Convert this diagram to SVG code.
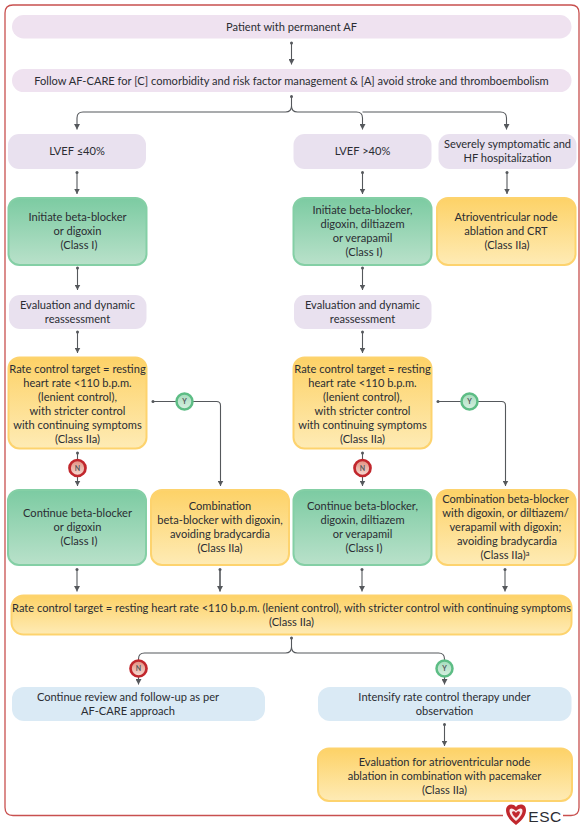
<svg xmlns="http://www.w3.org/2000/svg" width="585" height="825" viewBox="0 0 585 825">
<style>
text{font-family:"Lato","Open Sans","Liberation Sans",sans-serif;font-size:11.1px;fill:#2b2d33;text-anchor:middle}
.g{fill:url(#gg);stroke:#84cfa5;stroke-width:2}
.y{fill:url(#gy);stroke:#fdd36e;stroke-width:2}
.p{fill:#efe2f0}
.l{fill:#e9e1ef}
.b{fill:#daeaf5}
.c{fill:none;stroke:#55585c;stroke-width:1.1}
.a{marker-end:url(#arr);marker-start:url(#dot)}
.d{marker-start:url(#dot)}
.yc{fill:url(#gyc);stroke:#5dbd85;stroke-width:2.500}
.nc{fill:url(#gnc);stroke:#c1272d;stroke-width:2.700}
.bt{font-size:7px;font-weight:700;fill:#55585c}
</style>
<defs>
<linearGradient id="gg" x1="0" y1="0" x2="0" y2="1"><stop offset="0" stop-color="#7ccba2"/><stop offset="1" stop-color="#b9e1ca"/></linearGradient>
<linearGradient id="gy" x1="0" y1="0" x2="0" y2="1"><stop offset="0" stop-color="#fdd267"/><stop offset="1" stop-color="#feebb5"/></linearGradient>
<linearGradient id="gyc" x1="0" y1="0" x2="0" y2="1"><stop offset="0" stop-color="#a5dcbc"/><stop offset="1" stop-color="#d8f0e2"/></linearGradient>
<linearGradient id="gnc" x1="0" y1="0" x2="0" y2="1"><stop offset="0" stop-color="#e08f80"/><stop offset="1" stop-color="#f6dcd4"/></linearGradient>
<marker id="arr" markerUnits="userSpaceOnUse" markerWidth="7" markerHeight="6" refX="5.5" refY="3" orient="auto"><path d="M0 0L5.5 3L0 6Z" fill="#55585c"/></marker>
<marker id="dot" markerUnits="userSpaceOnUse" markerWidth="4" markerHeight="4" refX="2" refY="2"><circle cx="2" cy="2" r="1.500" fill="#55585c"/></marker>
</defs>
<rect width="585" height="825" fill="#fff"/>
<path id="frame" d="M503 815.500H13Q5 815.500 5 807.500V13Q5 5 13 5H571Q579 5 579 13V807.500Q579 815.500 571 815.500H563" fill="none" stroke="#c8504f" stroke-width="1.300"/>
<g id="connectors">
<path class="c a" d="M291.500 43V64.500"/>
<path class="c d" d="M291.500 96.500V106Q291.500 112 285.500 112H83Q77 112 77 118V129.500" style="marker-end:url(#arr)"/>
<path class="c" d="M291.500 106Q291.500 112 297.500 112H356.500Q362.500 112 362.500 118V129.500" style="marker-end:url(#arr)"/>
<path class="c" d="M362.500 112H500.500Q506.500 112 506.500 118V129.500" style="marker-end:url(#arr)"/>
<path class="c a" d="M77 172.500V194"/>
<path class="c a" d="M362.500 172.500V194"/>
<path class="c a" d="M507 172.500V194"/>
<path class="c a" d="M77.500 268V290"/>
<path class="c a" d="M362.500 268V290"/>
<path class="c a" d="M77.500 332V353"/>
<path class="c a" d="M362.500 332V353"/>
<path class="c a" d="M77.500 453V486"/>
<path class="c a" d="M362.500 453V486"/>
<path class="c d" d="M153 401.500H216.500Q220.500 401.500 220.500 405.500V486" style="marker-end:url(#arr)"/>
<path class="c d" d="M438 401.500H501.500Q505.500 401.500 505.500 405.500V486" style="marker-end:url(#arr)"/>
<path class="c a" d="M77 569.500V591.500"/>
<path class="c a" d="M220 569.500V591.500" style="stroke-width:1.600"/>
<path class="c a" d="M362 569.500V591.500"/>
<path class="c a" d="M505 569.500V591.500"/>
<path class="c d" d="M291.500 638V647Q291.500 653 285.500 653H144.500Q138.500 653 138.500 659V684.500" style="marker-end:url(#arr)"/>
<path class="c" d="M291.500 647Q291.500 653 297.500 653H438.500Q444.500 653 444.500 659V684.500" style="marker-end:url(#arr)"/>
<path class="c a" d="M444.500 724.500V746"/>
</g>
<g id="n-patient"><rect class="p" x="12" y="15" width="559.500" height="23.500" rx="11.700"/><text x="291.500" y="30.500">Patient with permanent AF</text></g>
<g id="n-follow"><rect class="p" x="12" y="69" width="559.500" height="23" rx="11.500"/><text x="291.500" y="84.500">Follow AF-CARE for [C] comorbidity and risk factor management &amp; [A] avoid stroke and thromboembolism</text></g>
<g id="n-lvef-low"><rect class="l" x="8" y="134" width="138" height="35" rx="11"/><text x="77" y="155">LVEF ≤40%</text></g>
<g id="n-lvef-high"><rect class="l" x="293.500" y="134" width="138" height="35" rx="11"/><text x="362.500" y="155">LVEF &gt;40%</text></g>
<g id="n-severe"><rect class="l" x="438.500" y="134" width="138" height="35" rx="11"/><text x="507.500" y="148">Severely symptomatic and</text><text x="507.500" y="162">HF hospitalization</text></g>
<g id="n-init1"><rect class="g" x="8.500" y="198" width="138" height="67" rx="11"/><text x="77.500" y="221">Initiate beta-blocker</text><text x="77.500" y="235">or digoxin</text><text x="79" y="249">(Class I)</text></g>
<g id="n-init2"><rect class="g" x="293.500" y="198" width="138" height="67" rx="11"/><text x="362.500" y="214">Initiate beta-blocker,</text><text x="362.500" y="228">digoxin, diltiazem</text><text x="362.500" y="242">or verapamil</text><text x="364" y="256">(Class I)</text></g>
<g id="n-avn"><rect class="y" x="437" y="198" width="138.500" height="67" rx="11"/><text x="506" y="221">Atrioventricular node</text><text x="506" y="235">ablation and CRT</text><text x="507" y="249">(Class IIa)</text></g>
<g id="n-eval1"><rect class="l" x="9" y="295" width="137.500" height="34" rx="11"/><text x="77.500" y="309">Evaluation and dynamic</text><text x="77.500" y="323">reassessment</text></g>
<g id="n-eval2"><rect class="l" x="294" y="295" width="137.500" height="34" rx="11"/><text x="362.500" y="309">Evaluation and dynamic</text><text x="362.500" y="323">reassessment</text></g>
<g id="n-rate1"><rect class="y" x="8.500" y="357.500" width="138" height="91" rx="11"/><text x="77.500" y="373">Rate control target = resting</text><text x="77.500" y="387">heart rate  &lt;110 b.p.m.</text><text x="77.500" y="401">(lenient control),</text><text x="77.500" y="415">with stricter control</text><text x="77.500" y="429">with continuing symptoms</text><text x="77.500" y="443">(Class IIa)</text></g>
<g id="n-rate2"><rect class="y" x="293.500" y="357.500" width="138" height="91" rx="11"/><text x="362.500" y="373">Rate control target = resting</text><text x="362.500" y="387">heart rate  &lt;110 b.p.m.</text><text x="362.500" y="401">(lenient control),</text><text x="362.500" y="415">with stricter control</text><text x="362.500" y="429">with continuing symptoms</text><text x="362.500" y="443">(Class IIa)</text></g>
<g id="n-cont1"><rect class="g" x="8" y="490" width="138" height="75" rx="11"/><text x="77.500" y="517">Continue beta-blocker</text><text x="77.500" y="531">or digoxin</text><text x="79" y="545">(Class I)</text></g>
<g id="n-comb1"><rect class="y" x="151" y="490" width="138" height="75" rx="11"/><text x="220" y="510">Combination</text><text x="220" y="524">beta-blocker with digoxin,</text><text x="220" y="538">avoiding bradycardia</text><text x="220" y="552">(Class IIa)</text></g>
<g id="n-cont2"><rect class="g" x="293.500" y="490" width="138" height="75" rx="11"/><text x="362.500" y="510">Continue beta-blocker,</text><text x="362.500" y="524">digoxin, diltiazem</text><text x="362.500" y="538">or verapamil</text><text x="364" y="552">(Class I)</text></g>
<g id="n-comb2"><rect class="y" x="436.500" y="490" width="139" height="75" rx="11"/><text x="505.500" y="503">Combination beta-blocker</text><text x="505.500" y="517">with digoxin, or diltiazem/</text><text x="505.500" y="531">verapamil with digoxin;</text><text x="507" y="545">avoiding bradycardia</text><text x="505" y="559">(Class IIa)<tspan font-size="7.500" dy="-3">a</tspan></text></g>
<g id="n-target"><rect class="y" x="11.500" y="595.500" width="560" height="39" rx="12"/><text x="291.500" y="612">Rate control target = resting heart rate &lt;110 b.p.m. (lenient control), with stricter control with continuing symptoms</text><text x="291.500" y="626">(Class IIa)</text></g>
<g id="n-review"><rect class="b" x="12" y="687" width="253" height="34" rx="12"/><text x="128" y="701">Continue review and follow-up as per</text><text x="128" y="715">AF-CARE approach</text></g>
<g id="n-intensify"><rect class="b" x="318" y="687" width="253.500" height="34" rx="12"/><text x="444.500" y="701">Intensify rate control therapy under</text><text x="444.500" y="715">observation</text></g>
<g id="n-avnp"><rect class="y" x="318" y="748.500" width="254" height="52.500" rx="11"/><text x="444.500" y="766">Evaluation for atrioventricular node</text><text x="444.500" y="780">ablation in combination with pacemaker</text><text x="444.500" y="794">(Class IIa)</text></g>
<g id="b-y1"><circle class="yc" cx="184.500" cy="401.500" r="8"/><text class="bt" x="184.500" y="404">Y</text></g>
<g id="b-y2"><circle class="yc" cx="469.500" cy="401.500" r="8"/><text class="bt" x="469.500" y="404">Y</text></g>
<g id="b-y3"><circle class="yc" cx="444.500" cy="668.500" r="8"/><text class="bt" x="444.500" y="671">Y</text></g>
<g id="b-n1"><circle class="nc" cx="77.500" cy="468" r="8"/><text class="bt" x="77.500" y="470.500">N</text></g>
<g id="b-n2"><circle class="nc" cx="362.500" cy="468" r="8"/><text class="bt" x="362.500" y="470.500">N</text></g>
<g id="b-n3"><circle class="nc" cx="138.500" cy="668.500" r="8"/><text class="bt" x="138.500" y="671">N</text></g>
<g id="esc">
<path d="M516 825C508 819 506 814 506 810C506 804 513 803 516 807C519 803 526 804 526 810C526 814 524 819 516 825Z" fill="#c1272d"/>
<path d="M516 821C511 817 509.500 813 509.500 811C509.500 807.500 513 808 516 811C519 808 522.500 807.500 522.500 811C522.500 813 521 817 516 821Z" fill="#fff" opacity=".9"/>
<path d="M516 818C513 816 512 813 512 812C513 810.500 515 811 516 813C517 811 519 810.500 520 812C520 813 519 816 516 818Z" fill="#c1272d"/>
<text x="545" y="821.500" style="font-size:15.500px;fill:#2b2d33;font-family:'Liberation Sans',sans-serif;letter-spacing:.5px">ESC</text>
</g>
</svg>
